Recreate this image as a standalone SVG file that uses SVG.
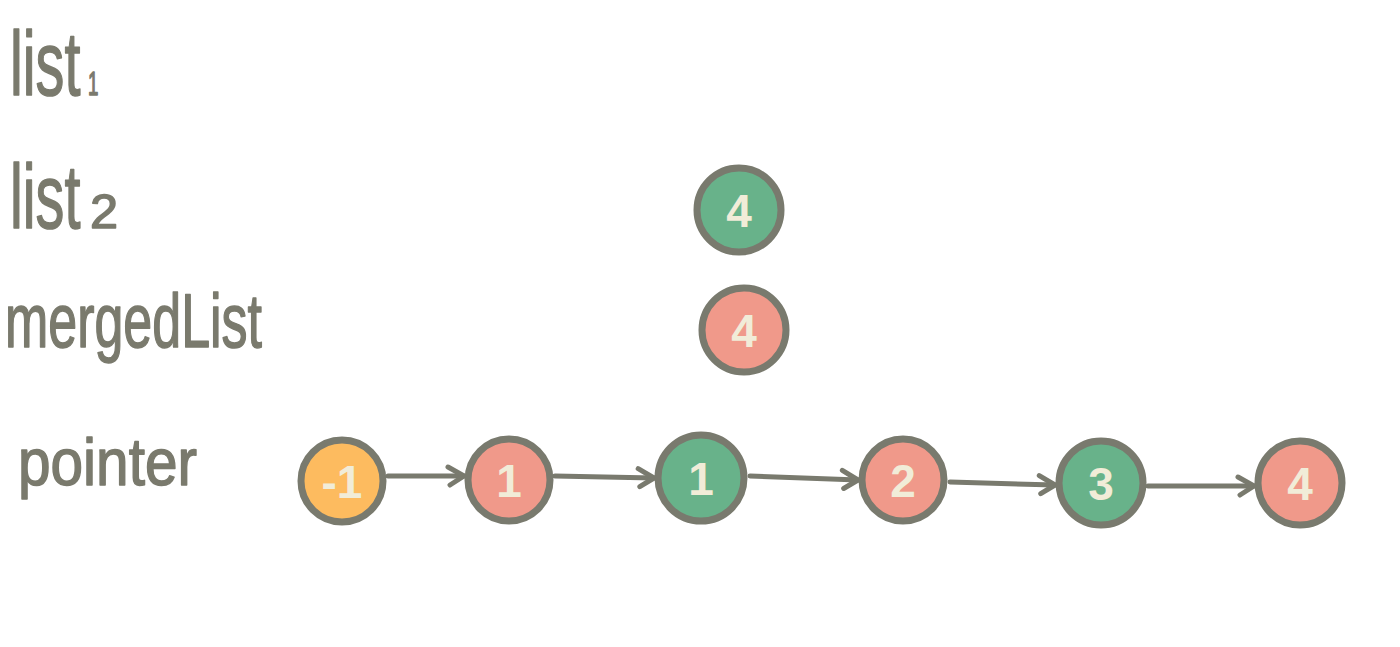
<svg xmlns="http://www.w3.org/2000/svg" width="1400" height="647" viewBox="0 0 1400 647">
<style>
.lbl{font-family:"Liberation Sans","DejaVu Sans",sans-serif;fill:#7a7a6d;stroke:#7a7a6d;stroke-width:1.5;stroke-linejoin:round}
.node circle{stroke:#797a6e;stroke-width:7}
.red{fill:#f0998a}
.green{fill:#68b28a}
.orange{fill:#fdbb5f}
.num{font-family:"Liberation Sans","DejaVu Sans",sans-serif;font-weight:bold;font-size:46px;fill:#f1ecd8;text-anchor:middle}
.conn{stroke:#797a6e;stroke-width:5;stroke-linecap:round;fill:none}
</style>
<defs>
<marker id="ah" viewBox="0 0 24 24" refX="20" refY="12" markerWidth="24" markerHeight="24" markerUnits="userSpaceOnUse" orient="auto">
<path d="M4 3 L20 12 L6 21" fill="none" stroke="#797a6e" stroke-width="5" stroke-linecap="round" stroke-linejoin="round"/>
</marker>
</defs>
<rect width="1400" height="647" fill="#ffffff"/>
<g id="labels">
<text class="lbl" transform="translate(10 95) scale(0.64 1)" x="0" y="0" font-size="90">list</text>
<text class="lbl" transform="translate(88 95) scale(0.55 1)" x="0" y="0" font-size="34">1</text>
<text class="lbl" transform="translate(10 228) scale(0.64 1)" x="0" y="0" font-size="90">list</text>
<text class="lbl" transform="translate(90 228) scale(1.05 1)" x="0" y="0" font-size="48">2</text>
<text class="lbl" x="5" y="347" font-size="76" textLength="257" lengthAdjust="spacingAndGlyphs">mergedList</text>
<text class="lbl" x="18" y="485" font-size="66" textLength="179" lengthAdjust="spacingAndGlyphs">pointer</text>
</g>
<g id="connectors">
<path class="conn" marker-end="url(#ah)" d="M388 476 L464 476"/>
<path class="conn" marker-end="url(#ah)" d="M555 476 L654 478"/>
<path class="conn" marker-end="url(#ah)" d="M750 476 L858 480"/>
<path class="conn" marker-end="url(#ah)" d="M950 482 L1055 485"/>
<path class="conn" marker-end="url(#ah)" d="M1148 486 L1254 486"/>
</g>
<g id="list2-node" class="node"><circle class="green" cx="739" cy="210" r="42"/><text class="num" x="739" y="227">4</text></g>
<g id="merged-node" class="node"><circle class="red" cx="744" cy="330" r="42"/><text class="num" x="744" y="347">4</text></g>
<g id="node-m1" class="node"><circle class="orange" cx="342" cy="481" r="41"/><text class="num" x="342" y="498">-1</text></g>
<g id="node-1a" class="node"><circle class="red" cx="509" cy="480" r="41"/><text class="num" x="509" y="497">1</text></g>
<g id="node-1b" class="node"><circle class="green" cx="701" cy="478" r="43"/><text class="num" x="701" y="495">1</text></g>
<g id="node-2" class="node"><circle class="red" cx="903" cy="480" r="41"/><text class="num" x="903" y="497">2</text></g>
<g id="node-3" class="node"><circle class="green" cx="1101" cy="483" r="42"/><text class="num" x="1101" y="500">3</text></g>
<g id="node-4" class="node"><circle class="red" cx="1300" cy="483" r="42"/><text class="num" x="1300" y="500">4</text></g>
</svg>
